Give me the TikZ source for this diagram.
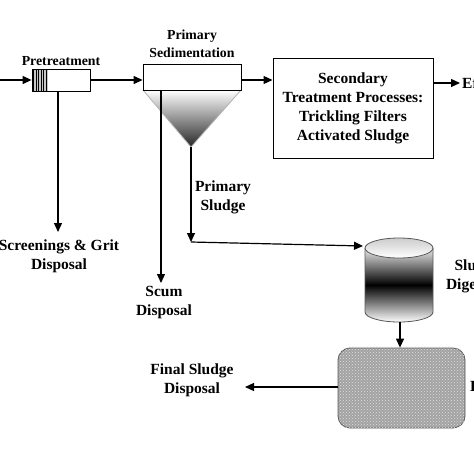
\documentclass[tikz,border=0pt]{standalone}
\usepackage{fontspec}
\setmainfont{Liberation Serif}
\usetikzlibrary{arrows.meta,patterns}

\tikzset{
    flow/.style={line width=1.2pt, -{Triangle[length=9pt,width=8pt]}},
    label/.style={font=\bfseries\fontsize{15.5}{19}\selectfont, align=center, inner sep=0pt},
    smalllabel/.style={font=\bfseries\fontsize{13.8}{18}\selectfont, align=center, inner sep=0pt},
    unit/.style={draw, line width=0.8pt, inner sep=0pt}
}

\begin{document}
\begin{tikzpicture}[x=1pt,y=-1pt]
                \useasboundingbox (0,0) rectangle (474,474);
                \fill[white] (0,0) rectangle (474,474);
                \clip (0,0) rectangle (474,474);

                % pretreatment
                \node[unit, minimum width=58pt, minimum height=22pt] (pre) at (61,80) {};
                \fill[gray!45] (32,69) rectangle (48,91);
                \foreach \x in {33.5,36,...,46} {
                    \draw[line width=0.9pt] (\x,69) -- (\x,91);
                }
                \draw[line width=0.8pt] (32,69) rectangle (90,91);
                \node[smalllabel] (pretext) at (61,61) {Pretreatment};

                % primary sedimentation
                \shade[top color=white, bottom color=black!85] (143,90) -- (241,90) -- (191,147) -- cycle;
                \draw[line width=0.8pt, gray!60] (143,90) -- (191,147) -- (241,90);
                \node[unit, minimum width=98pt, minimum height=26pt] (sed) at (192,77) {};
                \coordinate (apex) at (191,147);
                \node[smalllabel] (sedtext) at (192,44) {Primary\\Sedimentation};

                % secondary treatment
                \node[unit, line width=1pt, minimum width=160pt, minimum height=100pt, label] (sec) at (353,108)
                {Secondary\\Treatment Processes:\\Trickling Filters\\Activated Sludge};
                \node[label, anchor=west] (eff) at (462,83) {Effluent};

                % digester
                \shade[top color=gray!15, bottom color=white, middle color=black]
                    (365,248) -- (365,312) arc (180:360:34pt and 10pt) -- (433,248) -- cycle;
                \draw[line width=0.8pt, gray!70!black] (365,248) -- (365,312) arc (180:360:34pt and 10pt) -- (433,248);
                \shade[top color=gray!40, bottom color=white, draw=gray!70!black, line width=0.8pt]
                    (399,248) ellipse [x radius=34pt, y radius=10pt];
                \coordinate (digtop) at (365,246);
                \coordinate (digbot) at (400,322);
                \node[label] (digtext) at (477,276) {Sludge\\Digestion};

                % dewatering
                \node[draw=gray!70!black, line width=0.8pt, fill=gray!72, rounded corners=12pt,
                    minimum width=127pt, minimum height=80pt] (dew) at (401.5,388) {};
                \fill[pattern=crosshatch dots, pattern color=gray!25, rounded corners=11pt]
                    (dew.south west) ++(1pt,-1pt) rectangle ([xshift=-1pt,yshift=1pt]dew.north east);
                \node[label, anchor=west] (dewtext) at (470,388) {Dewatering};

                % disposal labels
                \node[label] (grit) at (59,256) {Screenings \& Grit\\Disposal};
                \node[label] (scum) at (164,303) {Scum\\Disposal};
                \node[label] (psl) at (223,197) {Primary\\Sludge};
                \node[label] (final) at (192,380) {Final Sludge\\Disposal};

                % connectors
                \coordinate (in) at (0,80);
                \coordinate (effend) at (460,83);
                \coordinate (gritend) at (58,232);
                \coordinate (scumend) at (161,283);
                \coordinate (corner) at (191,242);
                \coordinate (finalend) at (245,387);

                \draw[flow] (in) -- (pre.west);
                \draw[flow] (pre.east) -- (sed.west |- pre.east);
                \draw[flow] (sed.east |- pre.east) -- (sec.west |- pre.east);
                \draw[flow] (sec.east |- effend) -- (effend);
                \draw[flow] (pre.south -| gritend) -- (gritend);
                \draw[flow] (sed.south -| scumend) -- (scumend);
                \draw[flow] (apex) -- (corner);
                \draw[flow] (corner) -- (digtop -| 363,0);
                \draw[flow] (digbot) -- (dew.north -| digbot);
                \draw[flow] (dew.west |- finalend) -- (finalend);
            \end{tikzpicture}
\end{document}
